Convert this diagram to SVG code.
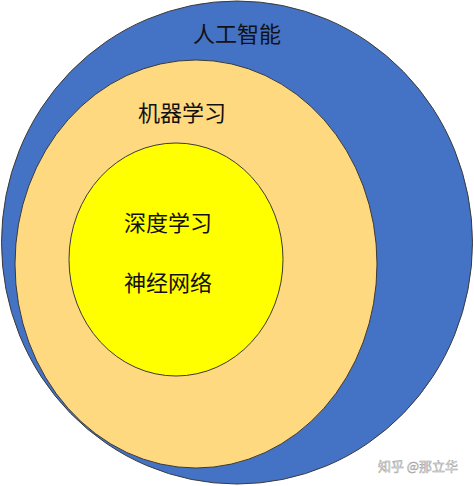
<svg xmlns="http://www.w3.org/2000/svg" width="474" height="486" viewBox="0 0 474 486">
<style>
.shape{stroke:#3a3a3a;stroke-width:1}
.lbl{font-family:"Noto Sans CJK SC","Noto Sans",sans-serif;font-size:22px;fill:#111;text-anchor:middle}
.wm{font-family:"Noto Sans CJK SC","Noto Sans",sans-serif;font-size:13px;fill:#ffffff;stroke:#9a9a9a;stroke-width:0.5;text-anchor:middle}
</style>
<rect width="474" height="486" fill="#ffffff"/>
<g id="ai">
<ellipse class="shape" cx="237" cy="242.5" rx="235.5" ry="241.5" fill="#4472C4"/>
<text class="lbl" x="237" y="42">人工智能</text>
</g>
<g id="ml">
<ellipse class="shape" cx="196" cy="264" rx="181" ry="204" fill="#FFD97F"/>
<text class="lbl" x="182" y="121">机器学习</text>
</g>
<g id="dl">
<ellipse class="shape" cx="176" cy="259.5" rx="107" ry="116.5" fill="#FFFF00"/>
<text class="lbl" x="168" y="231">深度学习</text>
<text class="lbl" x="168" y="291">神经网络</text>
</g>
<g id="connectors"></g>
<text class="wm" x="418" y="471">知乎 @那立华</text>
</svg>
